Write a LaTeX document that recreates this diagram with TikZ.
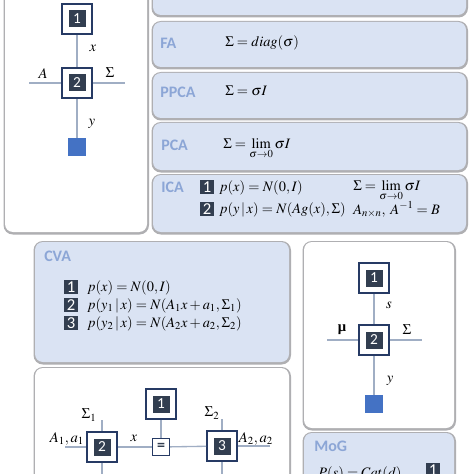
\documentclass[tikz,border=0pt]{standalone}
\usepackage{amsmath}
\usepackage{mathptmx}
\usepackage{fontspec}
\newfontfamily\cfont{Carlito}
\newfontfamily\tfont{Liberation Serif}
\definecolor{pblue}{RGB}{218,227,243}
\definecolor{lblue}{RGB}{140,166,214}
\definecolor{navy}{RGB}{38,58,100}
\definecolor{slate}{RGB}{50,62,80}
\definecolor{wirec}{RGB}{160,174,196}
\definecolor{obsc}{RGB}{68,114,196}
\definecolor{shadec}{RGB}{175,175,178}
\newcommand\pnl[5]{%
  \fill[shadec,rounded corners=7pt] (#1-1.5,#2-1) rectangle (#3+2,#4+2.5);
  \fill[#5,rounded corners=6pt] (#1,#2) rectangle (#3,#4);}
\tikzset{
  fac/.style={draw=navy, line width=1.4pt, fill=white, minimum size=22.5pt, inner sep=0pt},
  num/.style={fill=slate, text=white, font=\cfont\fontsize{11.5}{11.5}\selectfont, minimum size=12.75pt, inner sep=0pt},
  snum/.style={fill=slate, text=white, font=\cfont\fontsize{12.5}{12.5}\selectfont, minimum size=10pt, inner sep=0pt},
  eqbox/.style={draw=navy, line width=1.2pt, fill=white, minimum size=12.5pt, inner sep=0pt, font=\cfont\bfseries\fontsize{12}{12}\selectfont, text=slate},
  obsv/.style={fill=obsc, minimum size=13.5pt, inner sep=0pt},
  wireln/.style={draw=wirec, line width=1pt},
  ttl/.style={text=lblue, font=\cfont\bfseries\fontsize{12}{12}\selectfont, anchor=west, inner sep=0pt},
  eqn/.style={anchor=base west, font=\fontsize{10.8}{12}\selectfont, inner sep=0pt},
  lab/.style={font=\fontsize{11}{12}\selectfont, inner sep=0pt}
}
\begin{document}
\begin{tikzpicture}[x=0.75pt,y=-0.75pt]
\useasboundingbox (0,0) rectangle (474,474);
\fill[white] (0,0) rectangle (474,474);

% panels
\pnl{5}{-12}{147}{232}{white}
\pnl{153}{-12}{466}{15}{pblue}
\pnl{153}{22}{466}{67}{pblue}
\pnl{153}{73}{466}{118}{pblue}
\pnl{153}{123}{466}{170}{pblue}
\pnl{153}{175}{466}{232}{pblue}
\pnl{35}{242}{289}{362}{pblue}
\pnl{304}{242}{454}{428}{white}
\pnl{35}{368}{289}{490}{white}
\pnl{304}{433}{454}{490}{pblue}

% top-left factor graph
\node[fac] (a1) at (77,19) {};
\node[num] (a1n) at (a1) {1};
\node[fac] (a2) at (77,83) {};
\node[num] (a2n) at (a2) {2};
\node[obsv] (ay) at (77,147) {};
\coordinate (aL) at (29,83);
\coordinate (aR) at (125,83);
\draw[wireln] (a1) -- (a2);
\draw[wireln] (a2) -- (ay);
\draw[wireln] (aL) -- (a2);
\draw[wireln] (a2) -- (aR);
\node[lab] (ax) at (93,48) {$x$};
\node[lab] (aA) at (43,74) {$A$};
\node[lab] (aS) at (110,73) {$\Sigma$};
\node[lab] (ayl) at (92,124) {$y$};

% right column
\node[ttl] (tFA) at (160,43) {FA};
\node[eqn] (eFA) at (225,47) {$\Sigma=diag(\sigma)$};
\node[ttl] (tPPCA) at (160,92) {PPCA};
\node[eqn] (ePPCA) at (225,96) {$\Sigma=\sigma I$};
\node[ttl] (tPCA) at (161,145) {PCA};
\node[eqn] (ePCA) at (223,148) {$\Sigma=\lim\limits_{\sigma\to 0}\sigma I$};
\node[ttl] (tICA) at (161,187) {ICA};
\node[snum] (i1) at (207,187) {1};
\node[snum] (i2) at (207,209) {2};
\node[eqn] (ei1) at (219,191) {$p(x)=N(0,I)$};
\node[eqn] (ei2) at (219,213) {$p(y\,|\,x)=N(Ag(x),\Sigma)$};
\node[eqn] (ei3) at (353,190) {$\Sigma=\lim\limits_{\sigma\to 0}\sigma I$};
\node[eqn] (ei4) at (353,214) {$A_{n\times n},\;A^{-1}=B$};

% CVA
\node[ttl] (tCVA) at (44,256) {CVA};
\node[snum] (c1n) at (71,287) {1};
\node[snum] (c2n) at (71,305) {2};
\node[snum] (c3n) at (71,323) {3};
\node[eqn] (ec1) at (87,291) {$p(x)=N(0,I)$};
\node[eqn] (ec2) at (87,309) {$p(y_1\,|\,x)=N(A_1x+a_1,\Sigma_1)$};
\node[eqn] (ec3) at (87,327) {$p(y_2\,|\,x)=N(A_2x+a_2,\Sigma_2)$};

% right-middle factor graph
\node[fac] (b1) at (374,278) {};
\node[num] (b1n) at (b1) {1};
\node[fac] (b2) at (374,340) {};
\node[num] (b2n) at (b2) {2};
\node[obsv] (by) at (374,404) {};
\coordinate (bL) at (327,340);
\coordinate (bR) at (422,340);
\draw[wireln] (b1) -- (b2);
\draw[wireln] (b2) -- (by);
\draw[wireln] (bL) -- (b2);
\draw[wireln] (b2) -- (bR);
\node[lab] (bs) at (389,305) {$s$};
\node[lab] (bm) at (342,330) {\tfont\bfseries μ};
\node[lab] (bS) at (407,330) {$\Sigma$};
\node[lab] (byl) at (390,381) {$y$};

% MoG
\node[ttl] (tMoG) at (314,446) {MoG};
\node[eqn] (em1) at (318,477) {$P(s)=Cat(d)$};
\node[snum] (m1n) at (433,470) {1};

% bottom factor graph
\node[fac] (d1) at (161,404) {};
\node[num] (d1n) at (d1) {1};
\node[eqbox] (deq) at (161,447) {=};
\node[fac] (d2) at (102,447) {};
\node[num] (d2n) at (d2) {2};
\node[fac] (d3) at (222,446) {};
\node[num] (d3n) at (d3) {3};
\coordinate (dL) at (65,447);
\coordinate (dR) at (270,446);
\coordinate (d2u) at (102,420);
\coordinate (d3u) at (222,419);
\coordinate (d2d) at (102,490);
\coordinate (d3d) at (222,490);
\draw[wireln] (d1) -- (deq);
\draw[wireln] (dL) -- (d2);
\draw[wireln] (d2) -- (deq);
\draw[wireln] (deq) -- (d3);
\draw[wireln] (d3) -- (dR);
\draw[wireln] (d2) -- (d2u);
\draw[wireln] (d3) -- (d3u);
\draw[wireln] (d2) -- (d2d);
\draw[wireln] (d3) -- (d3d);
\node[lab] (dS1) at (89,415) {$\Sigma_1$};
\node[lab] (dS2) at (212,413) {$\Sigma_2$};
\node[lab] (dA1) at (67,439) {$A_1,a_1$};
\node[lab] (dA2) at (256,439) {$A_2,a_2$};
\node[lab] (dx) at (134,438) {$x$};
\end{tikzpicture}
\end{document}
